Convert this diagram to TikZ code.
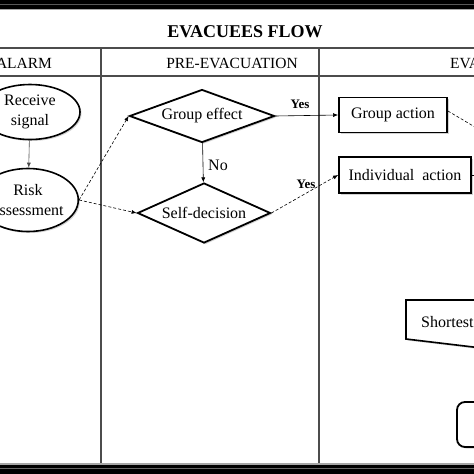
\documentclass[tikz,border=0pt]{standalone}
\usepackage{fontspec}
\setmainfont{Liberation Serif}
\usetikzlibrary{arrows.meta,shapes.geometric,shadows}

\begin{document}
\begin{tikzpicture}[x=1pt,y=-1pt, >={Latex[length=5pt,width=4pt]},
  every node/.style={font=\fontsize{16}{20}\selectfont},
  lane/.style={draw=black!70, line width=1.2pt},
  shade/.style={drop shadow={shadow xshift=1.5pt,shadow yshift=-1.5pt,fill=black!35}},
  oval/.style={ellipse,draw,line width=1.6pt,fill=white,align=center,inner sep=0pt,shade},
  decision/.style={diamond,draw,line width=1.8pt,fill=white,inner sep=0pt,shade},
  action/.style={rectangle,draw,line width=1.8pt,fill=white,inner sep=0pt,shade},
  flow/.style={->,line width=0.6pt},
  guess/.style={flow,densely dashed},
  answer/.style={font=\bfseries\fontsize{13}{15}\selectfont}]
\clip (0,0) rectangle (474,474);
\fill[white] (0,0) rectangle (474,474);

% frame bands
\fill[black!65] (0,0) rectangle (474,9);
\fill (0,0) rectangle (474,3.5);
\fill (0,5) rectangle (474,8.5);
\fill[black!35] (0,8.5) rectangle (474,10);
\fill[black!35] (0,462.5) rectangle (474,464.5);
\fill (0,464.5) rectangle (474,468);
\fill[black!60] (0,468) rectangle (474,469.3);
\fill (0,469.3) rectangle (474,474);

% lanes
\draw[lane] (0,48) -- (474,48);
\draw[lane] (0,76) -- (474,76);
\draw[lane] (101,48) -- (101,462.5);
\draw[lane] (319,48) -- (319,462.5);

\node[font=\bfseries\fontsize{18}{20}\selectfont] (title) at (245,32) {EVACUEES FLOW};
\node[font=\fontsize{15.5}{18}\selectfont] (alarm) at (24,63) {ALARM};
\node[font=\fontsize{15.5}{18}\selectfont] (pre) at (232,63) {PRE-EVACUATION};
\node[font=\fontsize{15.5}{18}\selectfont,anchor=west,inner sep=0pt] (evac) at (450,63) {EVACUATION};

% alarm
\node[oval,minimum width=100pt,minimum height=55pt] (signal) at (30,112) {Receive\\signal};
\node[oval,minimum width=100pt,minimum height=63pt] (risk) at (28,200) {Risk\\assessment};
\draw[flow,draw=black!70] (signal) -- (risk);

% pre-evacuation
\node[decision,aspect=2.7,minimum width=145pt,minimum height=53pt] (group) at (202,116) {Group effect};
\node[decision,aspect=2.2,minimum width=133pt,minimum height=60pt] (self) at (204,213) {Self-decision};
\draw[guess] (risk.east) -- (group.west);
\draw[guess] (risk.east) -- (self.west);
\draw[flow] (group) -- (self);
\node (no) at (218,165) {No};

% evacuation
\node[action,minimum width=108pt,minimum height=35pt] (gaction) at (393,115) {Group action};
\node[action,minimum width=132pt,minimum height=36pt] (iaction) at (405,175) {Individual\ \ action};
\draw[flow] (group.east) -- (gaction.west);
\draw[guess] (self.east) -- (iaction.west);
\node[answer] (yes1) at (300,104) {Yes};
\node[answer] (yes2) at (306,184) {Yes};
\coordinate (gout) at (480,130);
\coordinate (iout) at (480,175);
\draw[densely dashed,line width=0.6pt] (gaction.east) ++(0,-4) -- (gout);
\draw[line width=0.6pt] (iaction.east) -- (iout);

\filldraw[fill=white,line width=1.6pt,shade] (490,300) -- (406,300) -- (406,339) -- (490,349) -- cycle;
\node[anchor=west,inner sep=0pt] (shortest) at (421,322) {Shortest};
\draw[rounded corners=8pt,line width=1.8pt,fill=white,shade] (457,402) rectangle (530,447);
\end{tikzpicture}
\end{document}
